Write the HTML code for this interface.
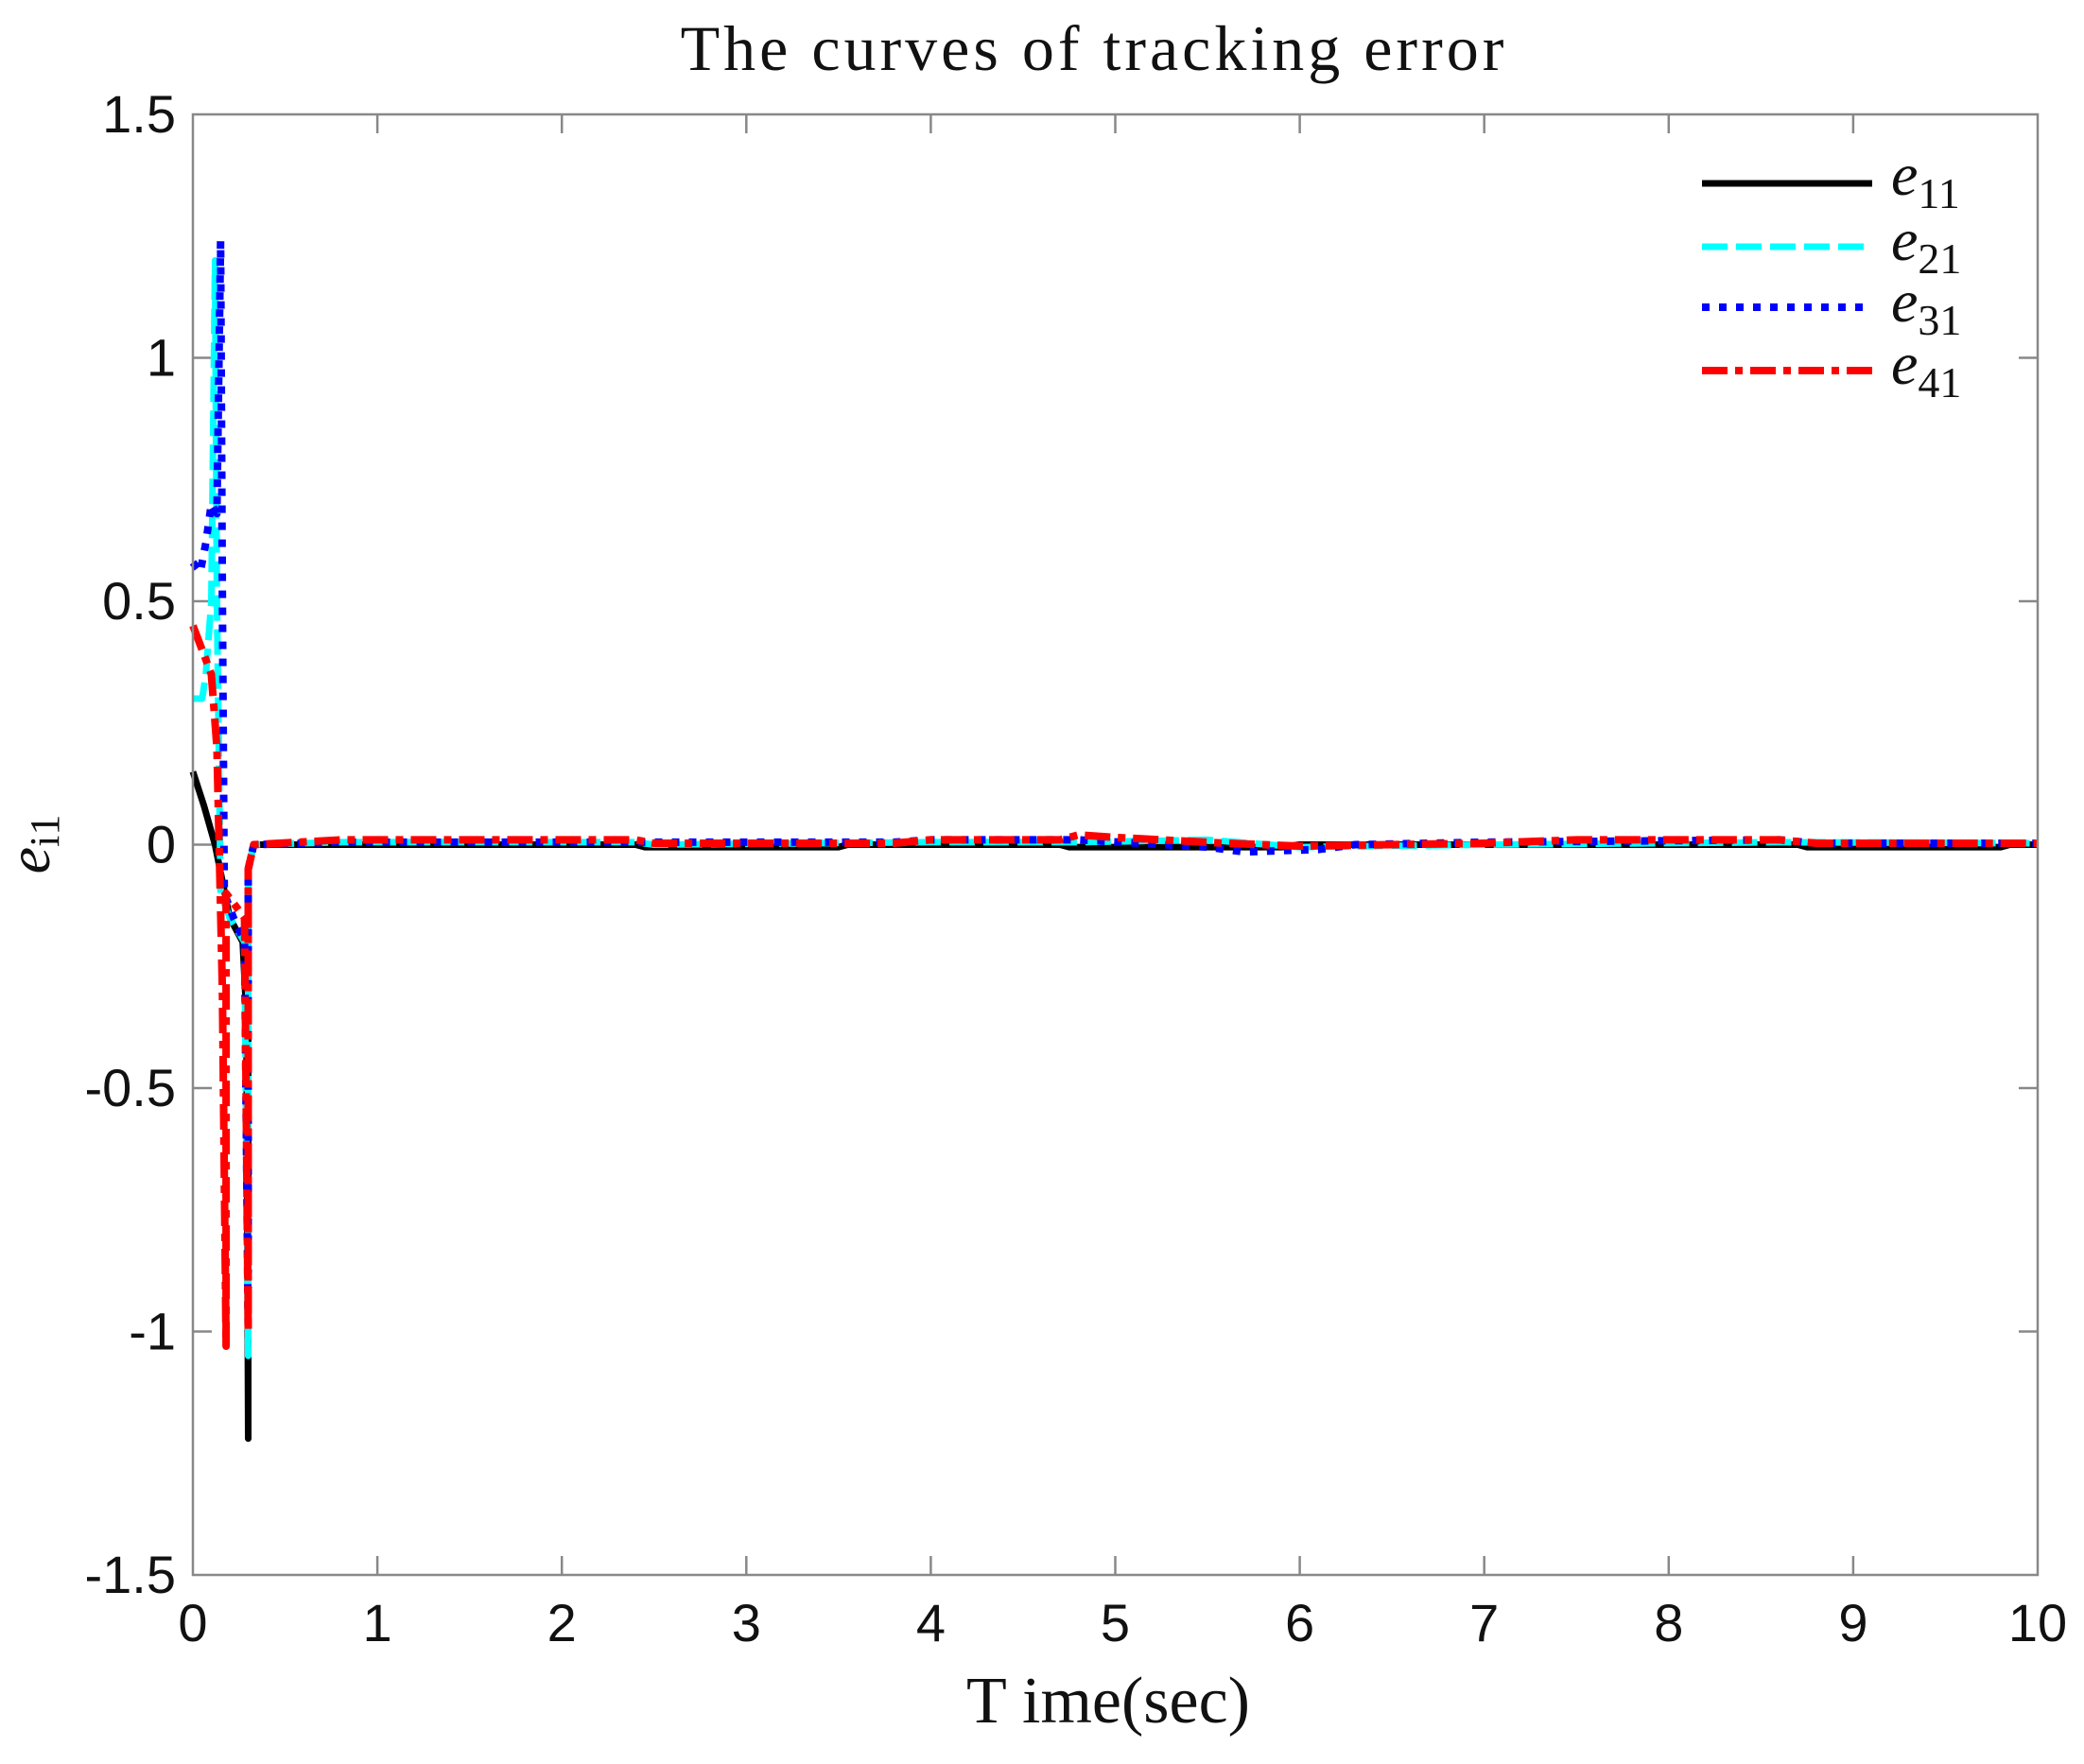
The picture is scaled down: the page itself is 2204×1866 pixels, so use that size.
<!DOCTYPE html>
<html><head><meta charset="utf-8"><style>
html,body{margin:0;padding:0;background:#fff;}
svg{display:block;}
</style></head><body>
<svg id="s" width="2204" height="1866" viewBox="0 0 2204 1866" xmlns="http://www.w3.org/2000/svg">
<rect width="2204" height="1866" fill="#fff"/>
<text x="1157" y="74" font-family="Liberation Serif, serif" font-size="68" letter-spacing="4" text-anchor="middle" fill="#111">The curves of tracking error</text>
<g id="ticks" stroke="#888" stroke-width="2.5" fill="none"></g>
<g id="series" fill="none" stroke-linejoin="round"></g>
<rect x="204" y="121" width="1951" height="1545" fill="none" stroke="#888" stroke-width="2.5"/>
<g id="labels" font-family="Liberation Sans, sans-serif" font-size="56" fill="#111"></g>
<text x="1172" y="1822" font-family="Liberation Serif, serif" font-size="70" text-anchor="middle" fill="#111">T ime(sec)</text>
<g transform="translate(52,893) rotate(-90)"><text x="0" y="0" font-family="Liberation Serif, serif" font-style="italic" font-size="64" text-anchor="middle" fill="#111">e<tspan font-style="normal" font-size="44" dy="10">i1</tspan></text></g>
<g id="legend">
<line x1="1800" y1="194" x2="1980" y2="194" stroke="#000" stroke-width="7"/>
<line x1="1800" y1="261" x2="1972" y2="261" stroke="#00ffff" stroke-width="7" stroke-dasharray="27,9"/>
<line x1="1800" y1="325" x2="1974" y2="325" stroke="#0000ff" stroke-width="8" stroke-dasharray="8,10"/>
<line x1="1800" y1="392" x2="1980" y2="392" stroke="#ff0000" stroke-width="8" stroke-dasharray="27,8,8,8"/>
<g font-family="Liberation Serif, serif" font-size="64" fill="#111">
<text x="2000" y="206" font-style="italic">e<tspan font-style="normal" font-size="46" dy="14">11</tspan></text>
<text x="2000" y="275" font-style="italic">e<tspan font-style="normal" font-size="46" dy="14">21</tspan></text>
<text x="2000" y="340" font-style="italic">e<tspan font-style="normal" font-size="46" dy="14">31</tspan></text>
<text x="2000" y="406" font-style="italic">e<tspan font-style="normal" font-size="46" dy="14">41</tspan></text>
</g></g>
</svg>
<script>
const L=204,R=2155,T=121,B=1666;
const X=t=>L+t*(R-L)/10, Y=v=>893.5-v*515;
const NS="http://www.w3.org/2000/svg";
function el(p,n,a,txt){const e=document.createElementNS(NS,n);for(const k in a)e.setAttribute(k,a[k]);if(txt!=null)e.textContent=txt;p.appendChild(e);return e;}
const tk=document.getElementById('ticks'),lb=document.getElementById('labels');
for(let i=0;i<=10;i++){const x=X(i);
 if(i>0&&i<10){el(tk,'line',{x1:x,y1:B,x2:x,y2:B-20});el(tk,'line',{x1:x,y1:T,x2:x,y2:T+20});}
 el(lb,'text',{x:x,y:1736,'text-anchor':'middle'},String(i));}
for(let i=0;i<=6;i++){const v=1.5-i*0.5,y=Y(v);
 if(i>0&&i<6){el(tk,'line',{x1:L,y1:y,x2:L+20,y2:y});el(tk,'line',{x1:R,y1:y,x2:R-20,y2:y});}
 el(lb,'text',{x:186,y:y+19,'text-anchor':'end'},(v===0?'0':String(v)));}
const sg=document.getElementById('series');
function path(pts,style){let d=pts.map((p,i)=>(i?'L':'M')+X(p[0]).toFixed(1)+','+Y(p[1]).toFixed(1)).join('');el(sg,'path',Object.assign({d:d},style));}
path([[0,0.15],[0.06,0.08],[0.12,0],[0.2,-0.15],[0.27,-0.2],[0.29,-0.35],[0.3,-1.22],[0.3,-0.05],[0.33,0],[0.6,0],[2.4,0],[2.45,-0.005],[3.5,-0.005],[3.55,0],[4.7,0],[4.75,-0.005],[5.9,-0.005],[6.0,0],[8.7,0],[8.75,-0.005],[9.8,-0.005],[9.85,0],[10,0]],{stroke:'#000','stroke-width':7});
path([[0,0.3],[0.05,0.3],[0.07,0.35],[0.1,0.5],[0.12,1.2],[0.13,0.5],[0.15,-0.1],[0.2,-0.15],[0.28,-0.2],[0.3,-1.05],[0.3,-0.05],[0.33,0],[0.8,0.005],[2.4,0.005],[2.5,0],[4,0.005],[4.8,0.005],[5.5,0.01],[6,-0.005],[7,0],[8.6,0.005],[10,0.003]],{stroke:'#00ffff','stroke-width':7,'stroke-dasharray':'27,9'});
path([[0,0.58],[0.04,0.56],[0.07,0.62],[0.1,0.7],[0.13,0.68],[0.15,1.24],[0.16,0.5],[0.17,-0.1],[0.22,-0.15],[0.28,-0.2],[0.3,-1.0],[0.3,-0.05],[0.33,0],[0.8,0.005],[2.4,0.005],[3.8,0.005],[4,0.01],[4.8,0.01],[5.5,-0.005],[5.7,-0.015],[6.1,-0.01],[6.3,0],[7,0.005],[8.6,0.01],[8.8,0.003],[10,0.003]],{stroke:'#0000ff','stroke-width':8,'stroke-dasharray':'8,10'});
path([[0,0.45],[0.05,0.4],[0.1,0.35],[0.13,0.2],[0.16,-0.3],[0.18,-1.03],[0.18,-0.1],[0.22,-0.12],[0.28,-0.15],[0.3,-1.0],[0.3,-0.05],[0.33,0],[0.8,0.01],[2.4,0.01],[2.5,0.003],[3.8,0.003],[4,0.01],[4.7,0.01],[4.8,0.02],[5,0.015],[5.6,0.003],[6,-0.003],[7,0.003],[7.5,0.01],[8.6,0.01],[8.8,0.003],[10,0.003]],{stroke:'#ff0000','stroke-width':8,'stroke-dasharray':'27,8,8,8'});
</script>
</body></html>
